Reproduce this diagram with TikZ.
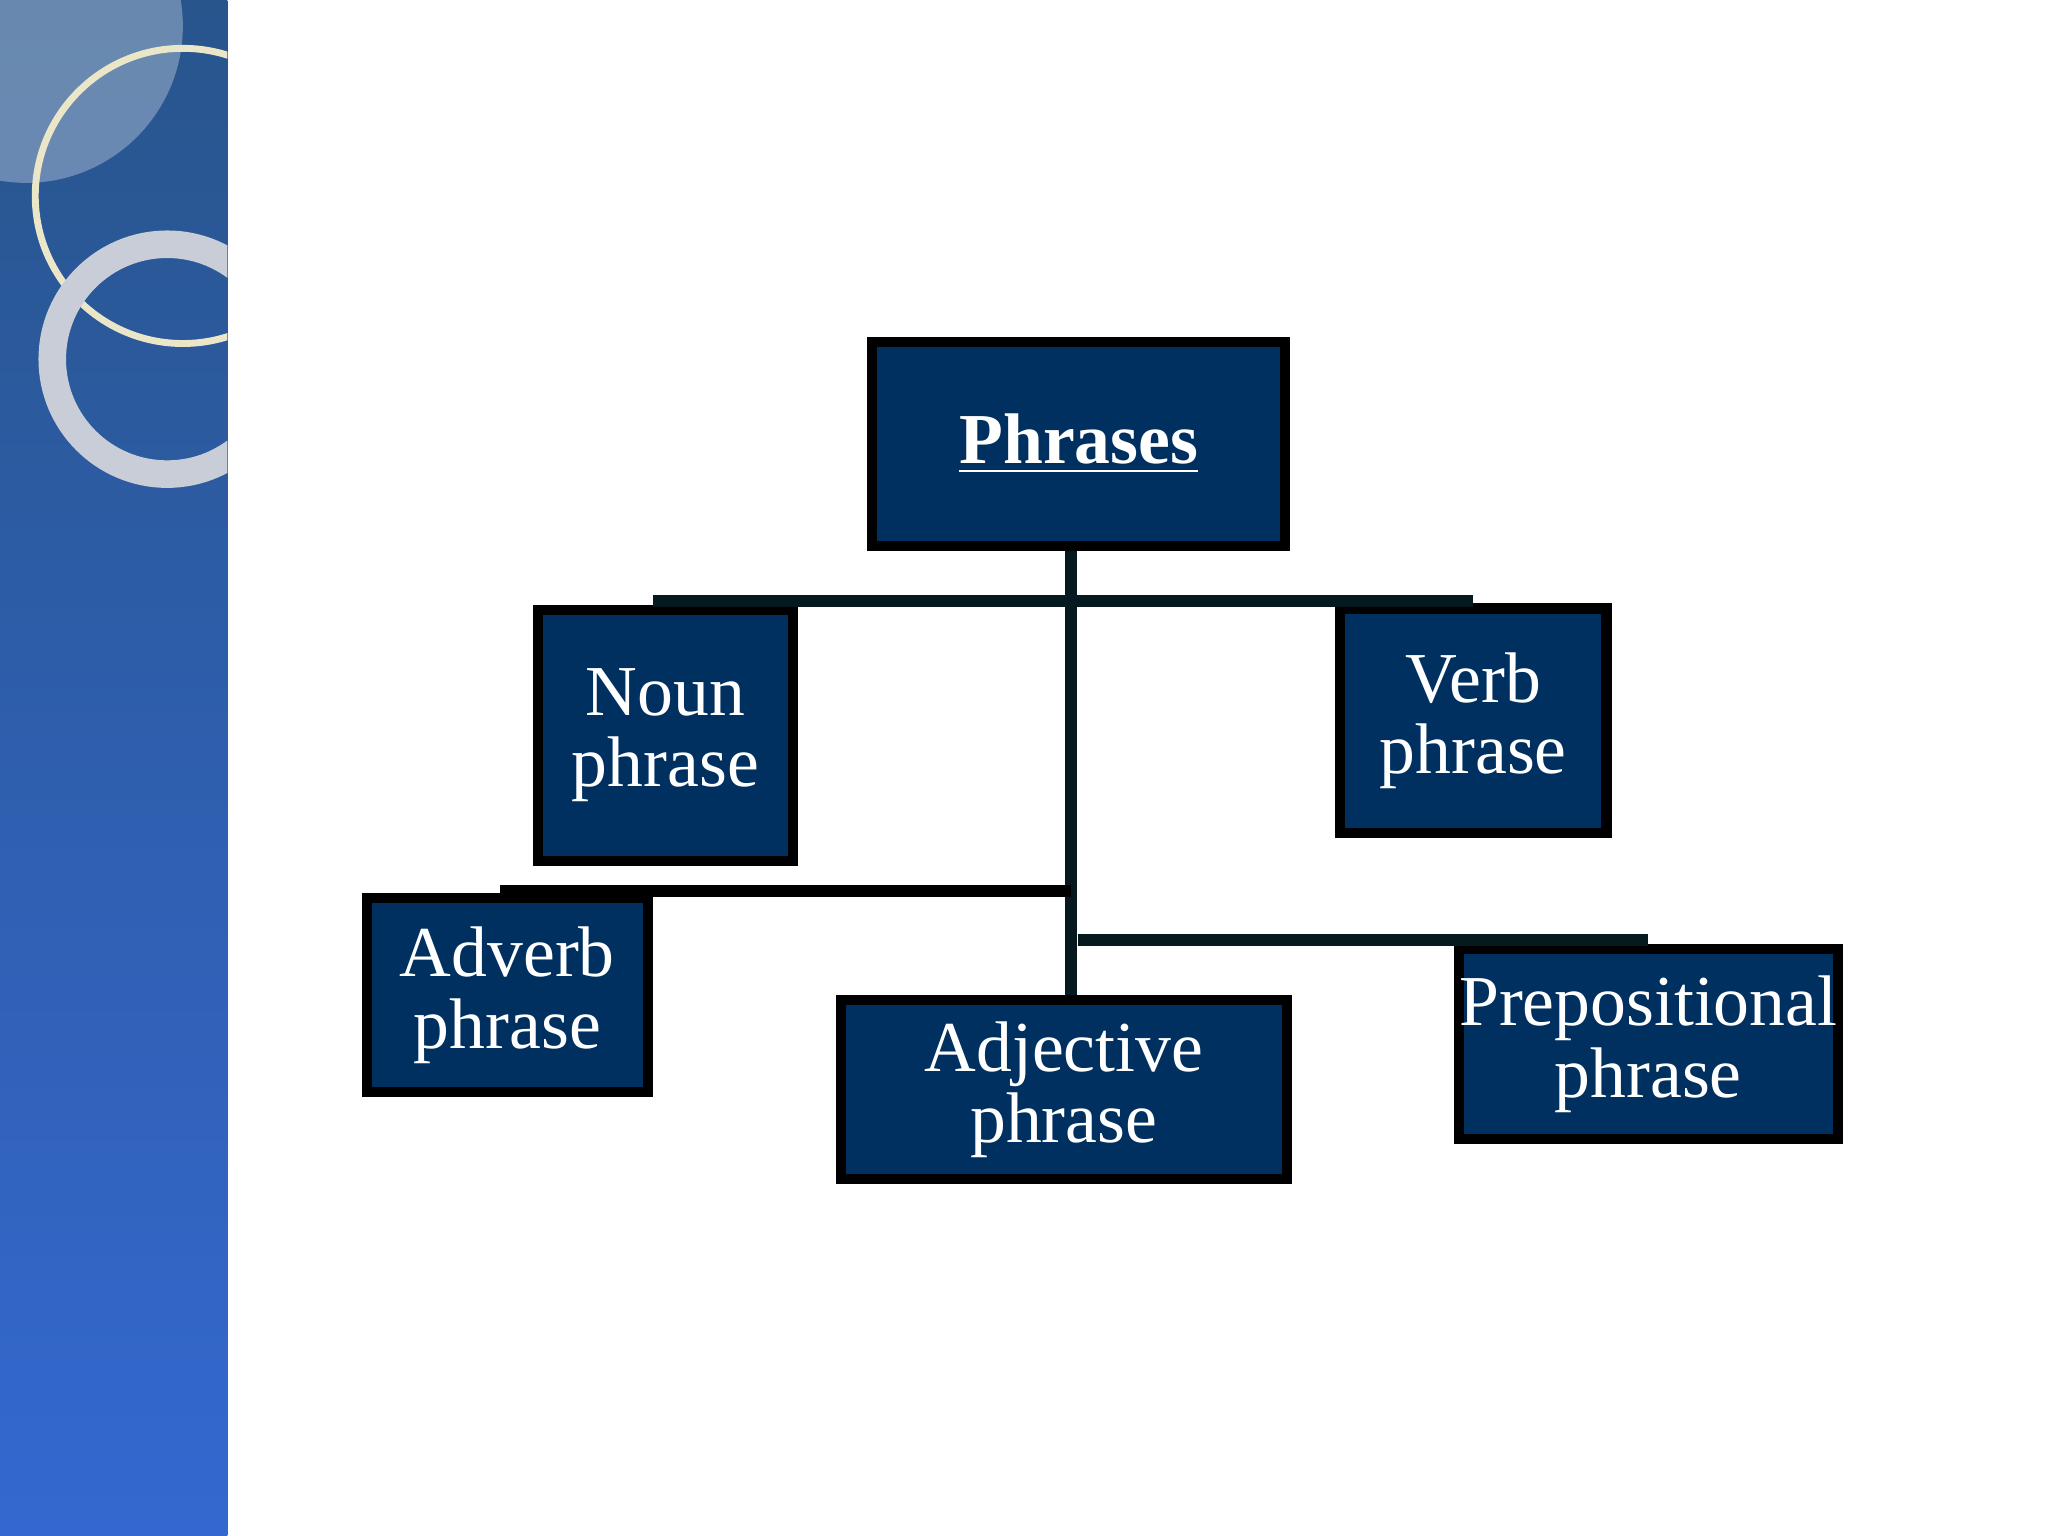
\documentclass[tikz,border=0pt]{standalone}
\usepackage{fontspec}
\setmainfont{Liberation Serif}
\definecolor{navy}{RGB}{0,48,96}
\definecolor{sbtop}{RGB}{40,85,140}
\definecolor{sbbot}{RGB}{52,104,208}
\definecolor{cream}{RGB}{235,230,200}
\definecolor{ringg}{RGB}{200,205,215}
\definecolor{connc}{RGB}{5,25,30}
\begin{document}
\begin{tikzpicture}[x=0.01cm,y=-0.01cm,
  box/.style={draw=black,line width=2.2pt,fill=navy,text=white,align=center,inner sep=0pt,font=\fontsize{15.6}{15.6}\selectfont,anchor=north west},
  conn/.style={line width=2.6pt,draw=connc}]
\useasboundingbox (0,0) rectangle (1568,1176);
\fill[white] (0,0) rectangle (1568,1176);
\shade[top color=sbtop,bottom color=sbbot] (0,0) rectangle (174,1176);
\begin{scope}
\clip (0,0) rectangle (174,1176);
\fill[white,opacity=0.3] (20,20) circle (120);
\draw[draw=cream,line width=1.5pt] (140,150) circle (113);
\draw[draw=ringg,line width=6pt] (128,275) circle (88);
\end{scope}
\coordinate (h1l) at (500,460); \coordinate (h1r) at (1128,460);
\coordinate (h2l) at (383,682); \coordinate (h2r) at (820,682);
\coordinate (h3l) at (825,720); \coordinate (h3r) at (1262,720);
\node[box,minimum width=3.16cm,minimum height=1.56cm] (ph) at (664,258) {\textbf{\underline{Phrases}}};
\node[box,minimum width=1.95cm,minimum height=1.92cm] (np) at (408,463) {Noun\\phrase};
\node[box,minimum width=2.04cm,minimum height=1.72cm] (vp) at (1022,462) {Verb\\phrase};
\node[box,minimum width=2.15cm,minimum height=1.48cm] (ap) at (277,684) {Adverb\\phrase};
\node[box,minimum width=3.41cm,minimum height=1.37cm] (jp) at (640,762) {Adjective\\phrase};
\node[box,minimum width=2.90cm,minimum height=1.45cm] (pp) at (1113,723) {Prepositional\\phrase};
\draw[conn] (ph.south -| h2r) -- (jp.north -| h2r);
\draw[conn] (h1l) -- (h1r);
\draw[conn,draw=black] (h2l) -- (h2r);
\draw[conn] (h3l) -- (h3r);
\end{tikzpicture}
\end{document}
